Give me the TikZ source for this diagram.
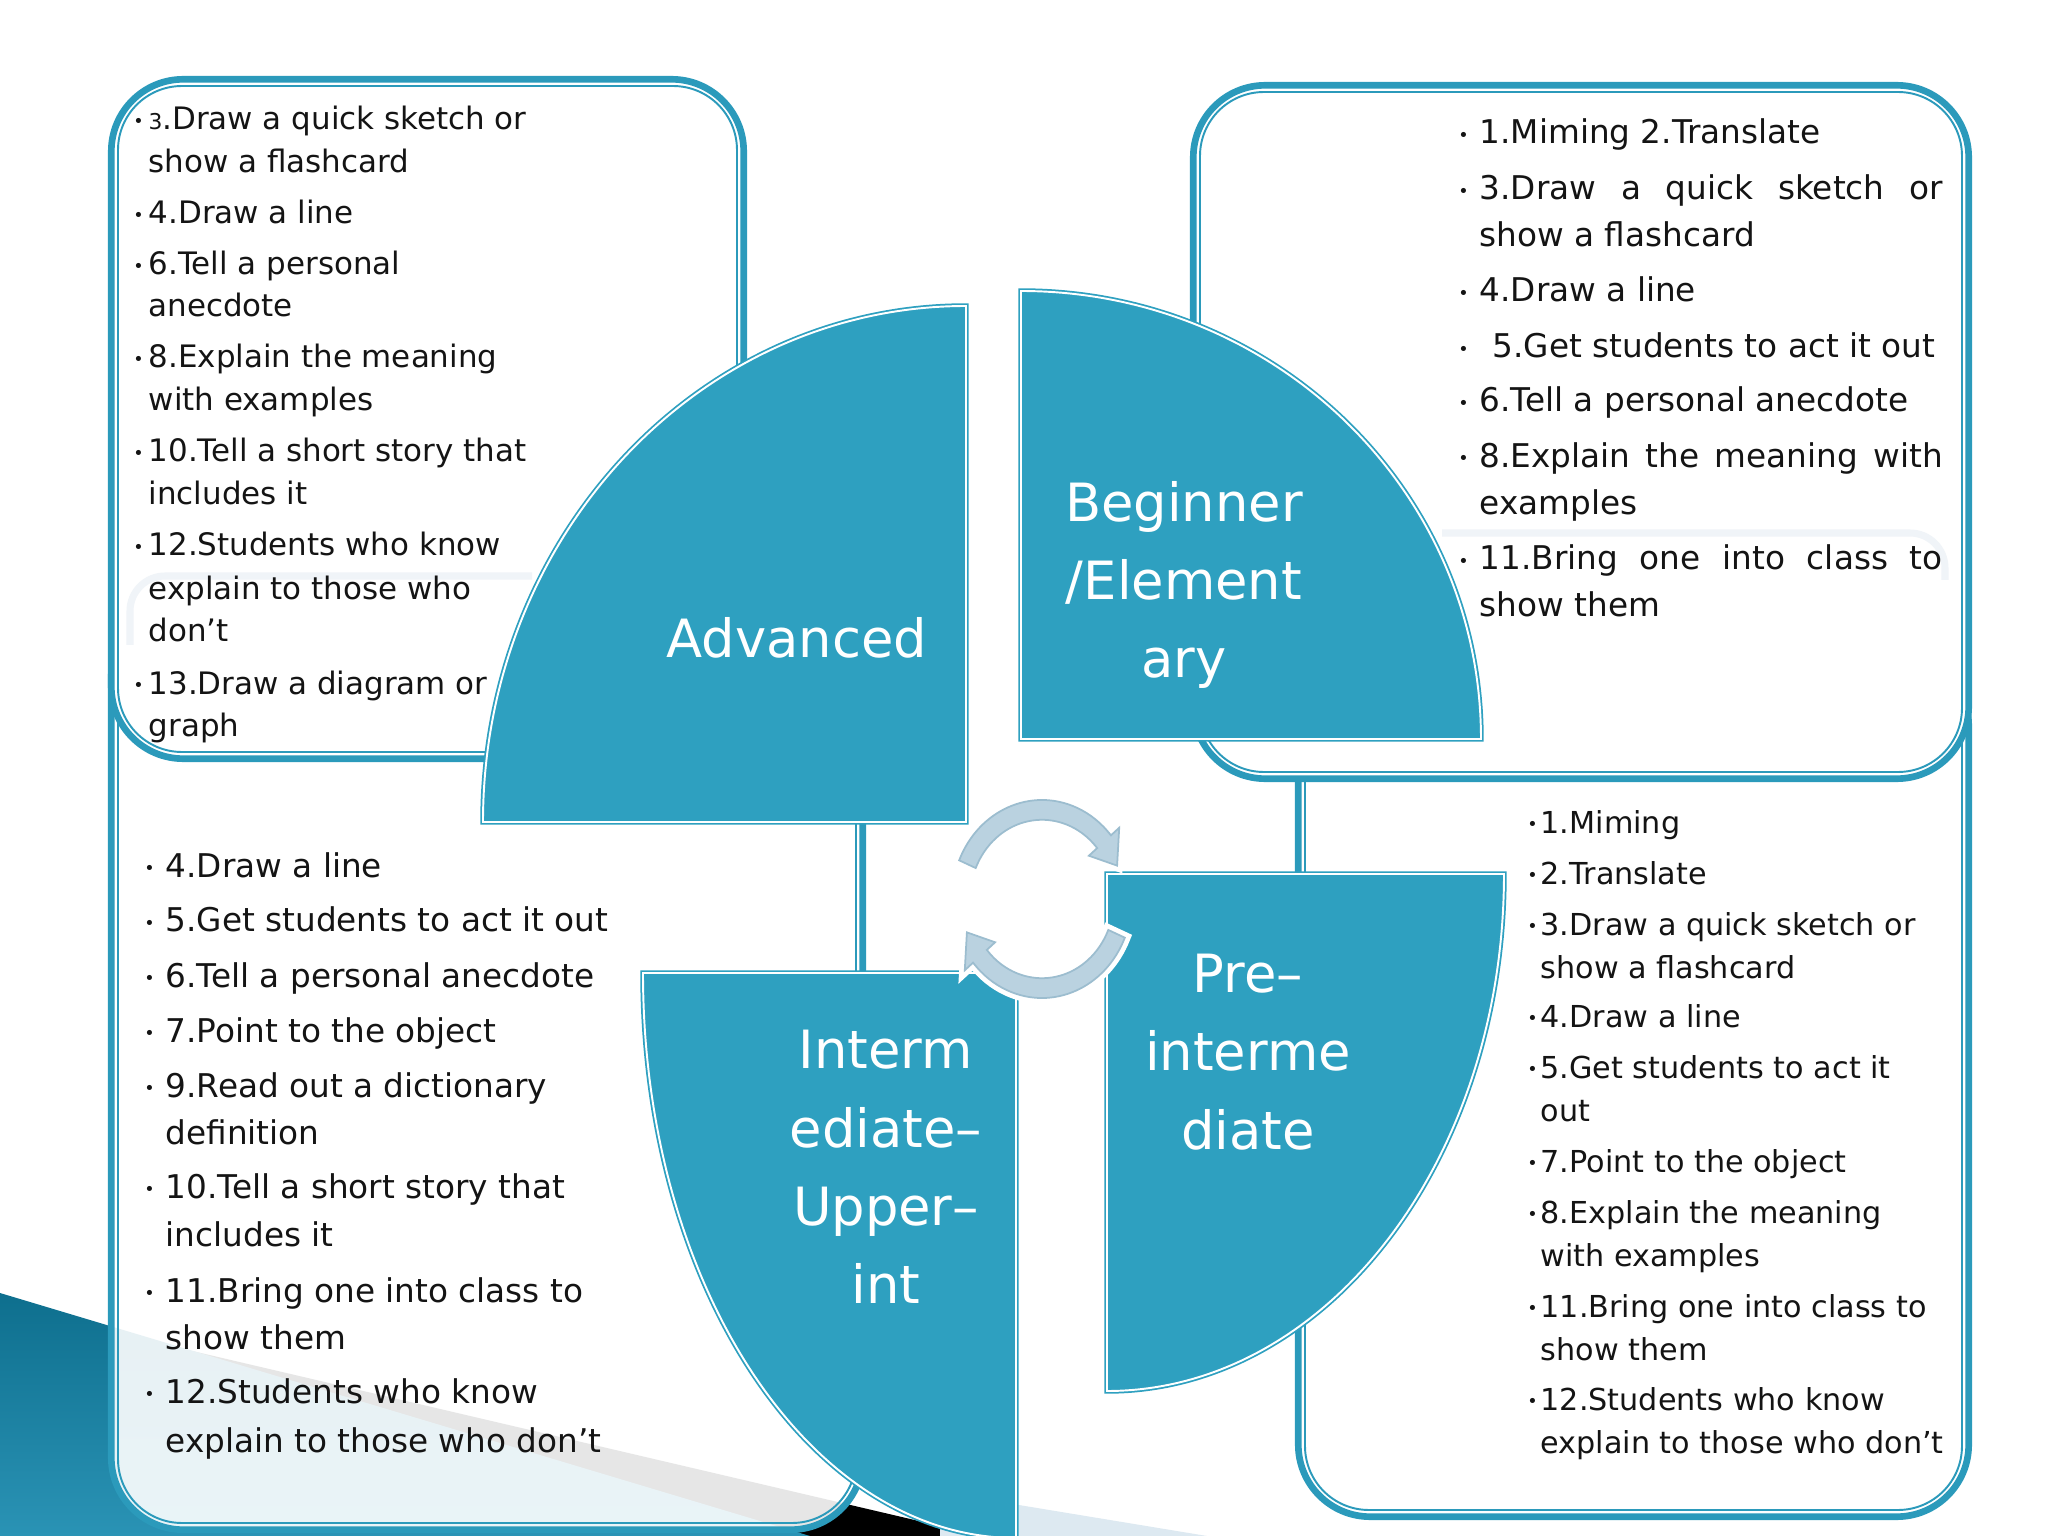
\documentclass[tikz,border=0pt]{standalone}
\usepackage{fontspec}
\setmainfont{DejaVu Sans}

\definecolor{lvteal}{RGB}{46,160,192}
\definecolor{edgeteal}{RGB}{43,154,187}
\definecolor{arrowfill}{RGB}{186,210,224}
\definecolor{arrowedge}{RGB}{156,189,207}
\definecolor{swoosh}{RGB}{14,111,142}
\definecolor{swooshlow}{RGB}{42,147,181}
\definecolor{paleblue}{RGB}{221,233,241}
\definecolor{ghost}{RGB}{240,244,248}

% hanging bullet, gap to the text as option
\newcommand{\bul}[1][0.05cm]{\llap{\raisebox{0.8pt}{\fontsize{5}{5}\selectfont •}\hspace{#1}}}

\tikzset{
  card/.style={draw=edgeteal, line width=1.9pt, rounded corners=0.72cm},
  cardin/.style={draw=edgeteal, line width=0.55pt, rounded corners=0.64cm},
  level/.style={fill=lvteal, draw=lvteal, double=white, double distance=0.55pt, line width=0.5pt},
  lvlabel/.style={text=white, align=center, inner sep=0pt, font=\fontsize{15}{22.3}\selectfont},
  listtxt/.style={anchor=base west, inner sep=0pt, text=black!92},
  cycarrow/.style={fill=arrowfill, draw=arrowedge, line width=0.5pt,
    preaction={draw=white, line width=3.2pt}},
  ghostline/.style={draw=ghost, line width=2pt, rounded corners=0.35cm}
}

\begin{document}
\begin{tikzpicture}

\useasboundingbox[fill=white] (0,0) rectangle (20.48,-15.36);

% swooshes, bottom left
\fill[black] (0,-13.06) -- (9.83,-15.36) -- (0,-15.36) -- cycle;
\shade[top color=swoosh, bottom color=swooshlow] (0,-12.93) -- (8.10,-15.36) -- (0,-15.36) -- cycle;
\fill[paleblue] (9.40,-14.92) -- (12.07,-15.36) -- (9.40,-15.36) -- cycle;

% cards: name / outer edge box / fill opacity
\foreach \nm/\xa/\ya/\xb/\yb/\op in {
  bl/1.08/6.00/8.66/15.33/0.9,
  br/12.95/6.50/19.72/15.20/0.9,
  tl/1.08/0.76/7.47/7.62/1,
  tr/11.90/0.82/19.72/7.82/1}
{
  \draw[card, fill=white, fill opacity=\op] (\xa+0.033,-\ya-0.033) rectangle (\xb-0.033,-\yb+0.033);
  \draw[cardin] (\xa+0.10,-\ya-0.10) rectangle (\xb-0.10,-\yb+0.10);
}

% faint reflections
\draw[ghostline] (5.32,-5.76) -- (1.30,-5.76) -- (1.30,-6.45);
\draw[ghostline] (14.42,-5.33) -- (19.45,-5.33) -- (19.45,-5.80);

% level quadrants
\draw[level] (9.66,-8.22) -- (4.83,-8.22) arc[start angle=180, end angle=90, x radius=4.83, y radius=5.16] -- cycle;
\draw[level] (10.21,-7.39) -- (10.21,-2.91) arc[start angle=90, end angle=0, x radius=4.60, y radius=4.48] -- cycle;
\draw[level] (10.16,-9.73) -- (6.43,-9.73) arc[start angle=180, end angle=270, x radius=3.73, y radius=5.65] -- cycle;
\draw[level] (11.07,-8.74) -- (15.04,-8.74) arc[start angle=0, end angle=-90, x radius=3.97, y radius=5.17] -- cycle;

\node[lvlabel] (adv) at (7.97,-6.38) {Advanced};
\node[lvlabel] (beg) at (11.84,-5.85) {Beginner\\/Element\\ary};
\node[lvlabel] (pre) at (12.48,-10.52) {Pre–\\interme\\diate};
\node[lvlabel] (int) at (8.86,-11.67) {Interm\\ediate–\\Upper–\\int};

% advanced list
\foreach \yy/\tx [count=\i] in {
  1.30/{\bul{\fontsize{6.2}{7}\selectfont 3}.Draw a quick sketch or},
  1.73/{show a flashcard},
  2.24/{\bul 4.Draw a line},
  2.75/{\bul 6.Tell a personal},
  3.17/{anecdote},
  3.68/{\bul 8.Explain the meaning},
  4.11/{with examples},
  4.62/{\bul 10.Tell a short story that},
  5.05/{includes it},
  5.56/{\bul 12.Students who know},
  5.99/{explain to those who},
  6.42/{don’t},
  6.94/{\bul 13.Draw a diagram or},
  7.36/{graph}}
  \node[listtxt, font=\fontsize{8.8}{10}\selectfont] (tl-\i) at (1.48,-\yy) {\tx};

% beginner list
\foreach \yy/\tx [count=\i] in {
  1.44/{\bul[0.11cm]1.Miming 2.Translate},
  2.00/{\bul[0.11cm]\makebox[4.63cm][s]{3.Draw a quick sketch or}},
  2.47/{show a flashcard},
  3.02/{\bul[0.11cm]4.Draw a line},
  3.58/{\bul[0.11cm]\hspace{0.13cm}5.Get students to act it out},
  4.12/{\bul[0.11cm]6.Tell a personal anecdote},
  4.67/{\bul[0.11cm]\makebox[4.63cm][s]{8.Explain the meaning with}},
  5.14/{examples},
  5.70/{\bul[0.11cm]\makebox[4.63cm][s]{11.Bring one into class to}},
  6.17/{show them}}
  \node[listtxt, font=\fontsize{9.3}{11}\selectfont] (tr-\i) at (14.79,-\yy) {\tx};

% intermediate list
\foreach \yy/\tx [count=\i] in {
  8.77/{\bul[0.11cm]4.Draw a line},
  9.32/{\bul[0.11cm]5.Get students to act it out},
  9.87/{\bul[0.11cm]6.Tell a personal anecdote},
  10.42/{\bul[0.11cm]7.Point to the object},
  10.97/{\bul[0.11cm]9.Read out a dictionary},
  11.44/{definition},
  11.98/{\bul[0.11cm]10.Tell a short story that},
  12.46/{includes it},
  13.02/{\bul[0.11cm]11.Bring one into class to},
  13.49/{show them},
  14.03/{\bul[0.11cm]12.Students who know},
  14.52/{explain to those who don’t}}
  \node[listtxt, font=\fontsize{9.3}{11}\selectfont] (bl-\i) at (1.65,-\yy) {\tx};

% pre-intermediate list
\foreach \yy/\tx [count=\i] in {
  8.33/{\bul[0.03cm]1.Miming},
  8.84/{\bul[0.03cm]2.Translate},
  9.35/{\bul[0.03cm]3.Draw a quick sketch or},
  9.78/{show a flashcard},
  10.27/{\bul[0.03cm]4.Draw a line},
  10.78/{\bul[0.03cm]5.Get students to act it},
  11.21/{out},
  11.72/{\bul[0.03cm]7.Point to the object},
  12.23/{\bul[0.03cm]8.Explain the meaning},
  12.66/{with examples},
  13.17/{\bul[0.03cm]11.Bring one into class to},
  13.60/{show them},
  14.10/{\bul[0.03cm]12.Students who know},
  14.53/{explain to those who don’t}}
  \node[listtxt, font=\fontsize{8.6}{10}\selectfont] (br-\i) at (15.40,-\yy) {\tx};

% cycle arrows in the middle
\begin{scope}[shift={(10.42,-8.99)}, xscale=0.90, yscale=0.99]
  \foreach \rot in {0,180}
    \draw[cycarrow, rotate=\rot] (157:1) arc[start angle=157, end angle=40, radius=1]
      -- (40:1.12) -- (22:0.9) -- (40:0.68) -- (40:0.8)
      arc[start angle=40, end angle=157, radius=0.8] -- cycle;
\end{scope}

\end{tikzpicture}
\end{document}
